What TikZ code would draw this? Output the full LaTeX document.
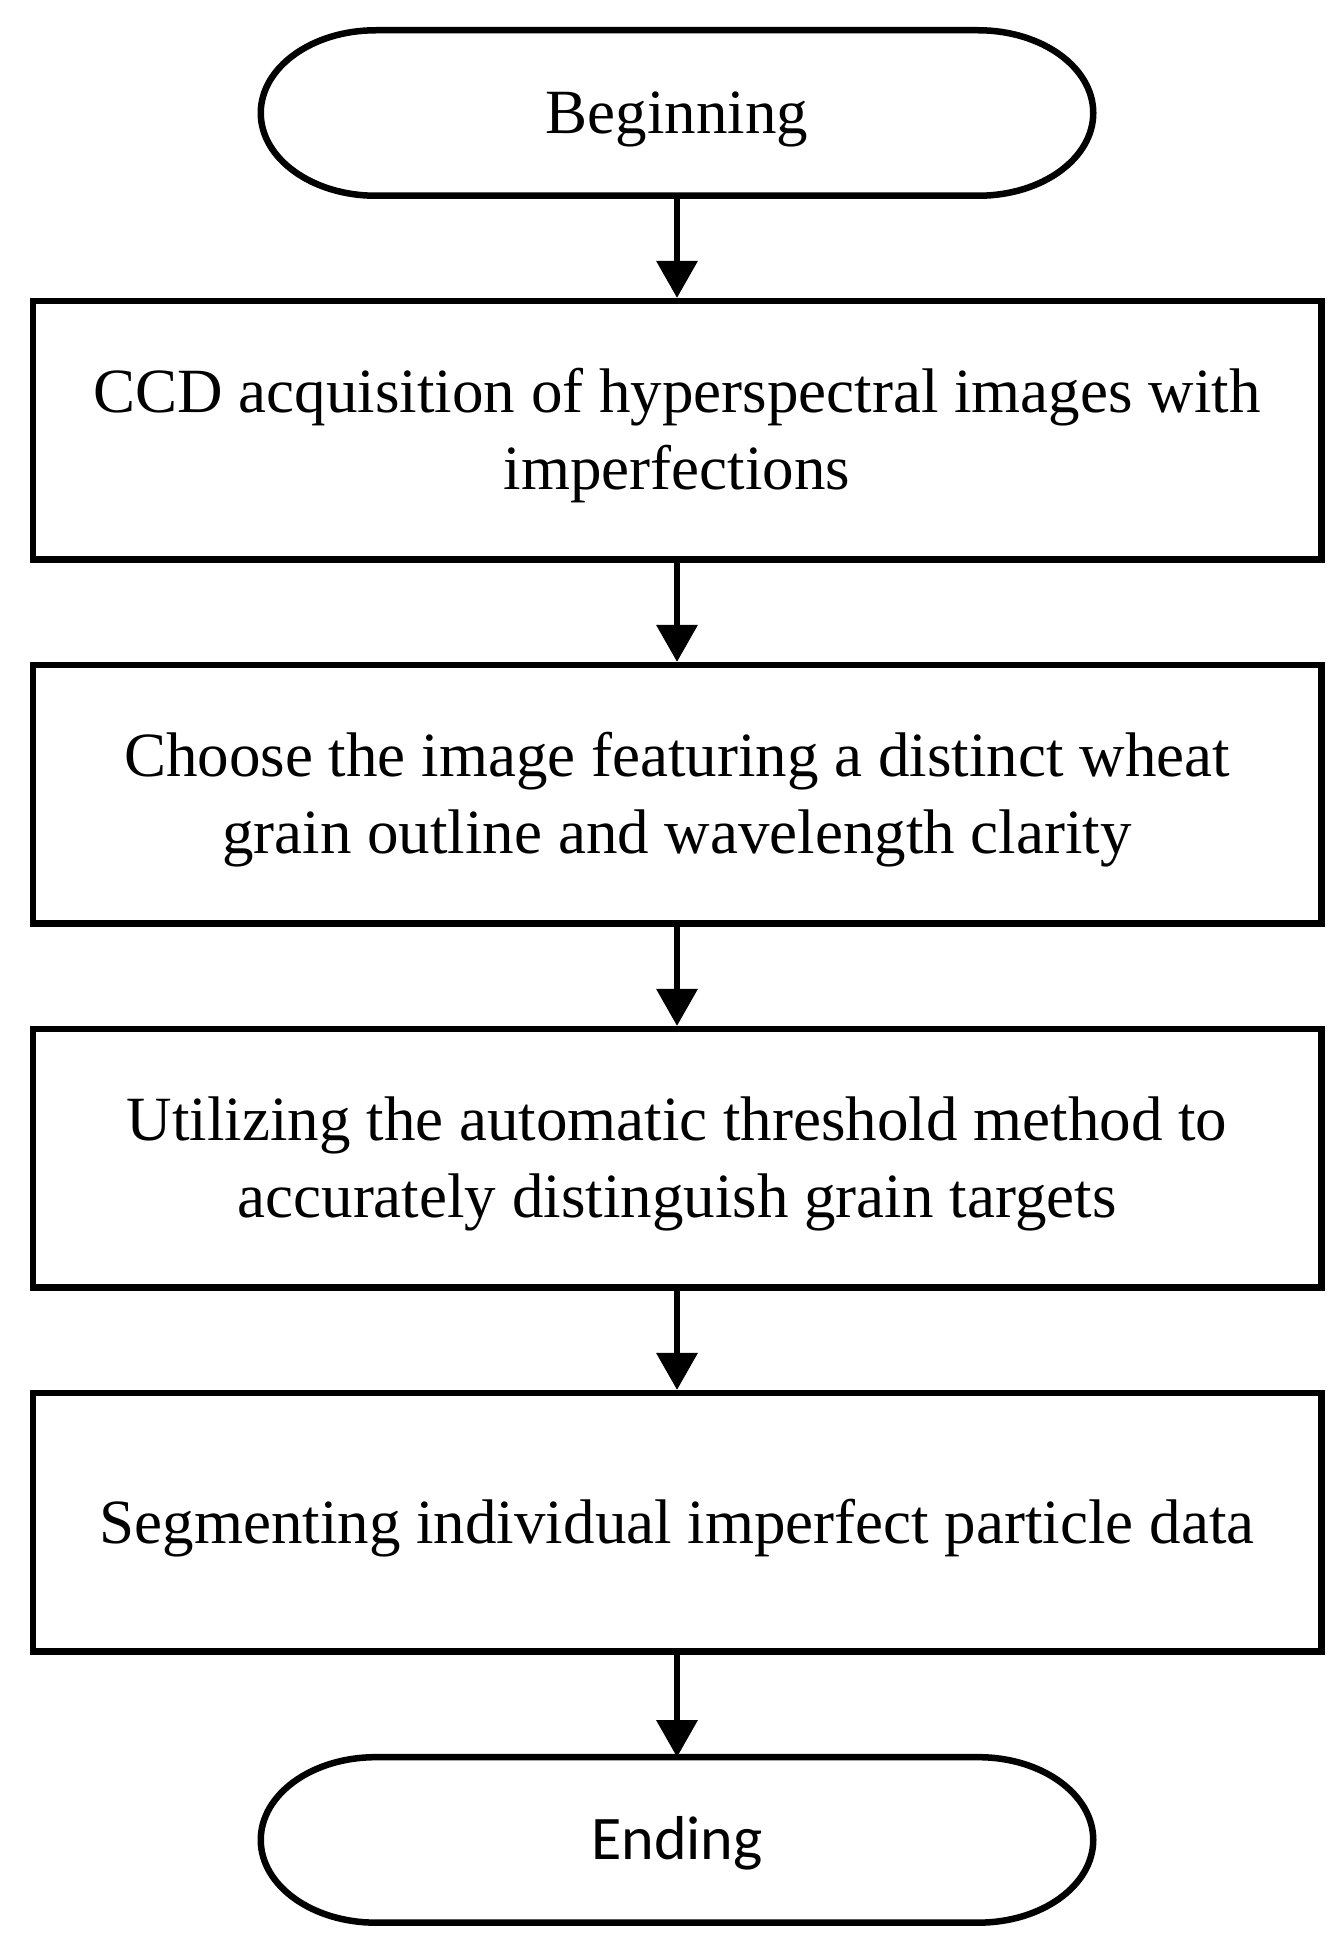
\documentclass[tikz,border=0pt]{standalone}
\usepackage{fontspec}
\setmainfont{Liberation Serif}
\newfontfamily\endfont{Carlito}
\usetikzlibrary{positioning,arrows.meta}
\newcommand\topstrut[1][27.5pt]{\rule{0pt}{#1}}

\begin{document}
\begin{tikzpicture}[node distance=49.5pt,
  every node/.style = {align=center,
    font=\fontsize{31.5pt}{38.4pt}\selectfont},
  stepbox/.style = {shape=rectangle, draw, line width=3.25pt,
    minimum width=644.25pt, minimum height=129.25pt},
  terminal/.style = {shape=rectangle, outer sep=0pt,
    minimum width=416.25pt, minimum height=82.75pt},
  arr/.style = {line width=3.25pt, -{Triangle[width=20pt,length=18.5pt]}}]
  \useasboundingbox (0,0) rectangle (671pt,-971pt);
  \node[terminal] (start) at (338.5pt,-56.5pt) {\topstrut Beginning};
  \node[stepbox, below=51.1pt of start] (ccd)
    {\topstrut CCD acquisition of hyperspectral images with\\imperfections};
  \node[stepbox, below=of ccd] (choose)
    {\topstrut Choose the image featuring a distinct wheat\\grain outline and wavelength clarity};
  \node[stepbox, below=of choose] (thresh)
    {\topstrut Utilizing the automatic threshold method to\\accurately distinguish grain targets};
  \node[stepbox, below=of thresh] (segm)
    {\topstrut Segmenting individual imperfect particle data};
  \node[terminal, below=51.1pt of segm,
    font=\endfont\fontsize{31pt}{38pt}\selectfont] (stop) {\topstrut[25pt]Ending};
  % outlines of the two terminals
  \foreach \t in {start,stop}
    \draw[line width=3.25pt] ([xshift=57.5pt]\t.north west)
      -- ([xshift=-57.5pt]\t.north east)
      arc[start angle=90, end angle=-90, x radius=57.5pt, y radius=41.375pt]
      -- ([xshift=57.5pt]\t.south west)
      arc[start angle=270, end angle=90, x radius=57.5pt, y radius=41.375pt]
      -- cycle;
  \foreach \a/\b in {start/ccd, ccd/choose, choose/thresh, thresh/segm, segm/stop}
    \draw[arr] (\a) -- (\b);
\end{tikzpicture}
\end{document}
